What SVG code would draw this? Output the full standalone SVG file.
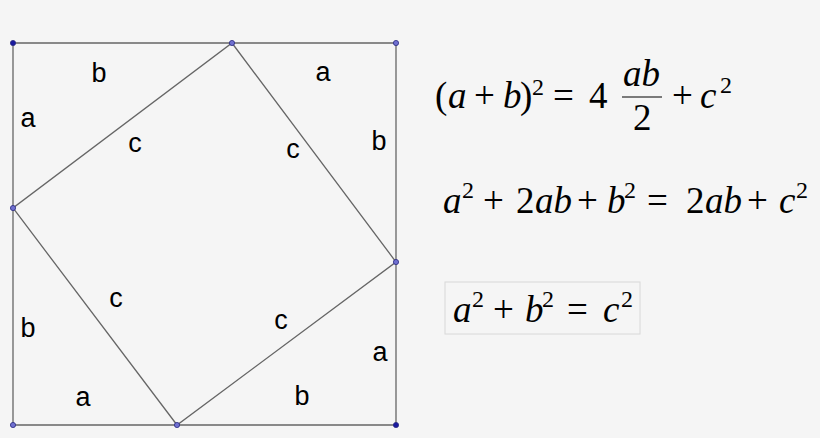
<svg xmlns="http://www.w3.org/2000/svg" width="820" height="438" viewBox="0 0 820 438">
<style>
.ln{stroke:#666;stroke-width:1.3;fill:none}
.pt{stroke:#2a2a80;stroke-width:0.8}
.lbl{font-family:"Liberation Sans",Arial,sans-serif;font-size:27px;fill:#000;text-anchor:middle}
.m{font-family:"Liberation Serif","Times New Roman",serif;font-size:37px;fill:#000}
.mi{font-style:italic}
.s{font-size:24px}
</style>
<rect width="820" height="438" fill="#f5f5f5"/>
<g id="connectors">
<polyline class="ln" points="13,43 396,43 396,425 13,425 13,43"/>
<polygon class="ln" points="232,43 396,262 177,425 13,208"/>
</g>
<g id="points">
<circle class="pt" cx="13" cy="43" r="2.6" fill="#1a1aa0"/>
<circle class="pt" cx="232" cy="43" r="2.6" fill="#7070d0"/>
<circle class="pt" cx="396" cy="43" r="2.6" fill="#7070d0"/>
<circle class="pt" cx="13" cy="208" r="2.6" fill="#7070d0"/>
<circle class="pt" cx="396" cy="262" r="2.6" fill="#7070d0"/>
<circle class="pt" cx="13" cy="425" r="2.6" fill="#7070d0"/>
<circle class="pt" cx="177" cy="425" r="2.6" fill="#7070d0"/>
<circle class="pt" cx="396" cy="425" r="2.6" fill="#1a1aa0"/>
</g>
<g id="labels">
<text class="lbl" x="99" y="82">b</text>
<text class="lbl" x="323" y="81">a</text>
<text class="lbl" x="28" y="127">a</text>
<text class="lbl" x="135" y="152">c</text>
<text class="lbl" x="293" y="158">c</text>
<text class="lbl" x="379" y="150">b</text>
<text class="lbl" x="116" y="307">c</text>
<text class="lbl" x="28" y="337">b</text>
<text class="lbl" x="281" y="329">c</text>
<text class="lbl" x="380" y="361">a</text>
<text class="lbl" x="83" y="406">a</text>
<text class="lbl" x="302" y="405">b</text>
</g>
<g id="formula1" class="m">
<text x="435" y="108">(</text>
<text class="mi" x="448" y="108">a</text>
<text x="474" y="108">+</text>
<text class="mi" x="503" y="108">b</text>
<text x="520" y="108">)</text>
<text class="s" x="532" y="95">2</text>
<text x="553" y="108">=</text>
<text x="589" y="108">4</text>
<text class="mi" x="623" y="86">ab</text>
<line x1="622" y1="97" x2="662" y2="97" stroke="#000" stroke-width="1.2"/>
<text x="633" y="130">2</text>
<text x="672" y="108">+</text>
<text class="mi" x="700" y="108">c</text>
<text class="s" x="720" y="93">2</text>
</g>
<g id="formula2" class="m">
<text class="mi" x="443" y="213">a</text>
<text class="s" x="462" y="198">2</text>
<text x="483" y="213">+</text>
<text x="516" y="213">2</text>
<text class="mi" x="535" y="213">ab</text>
<text x="577" y="213">+</text>
<text class="mi" x="607" y="213">b</text>
<text class="s" x="624" y="198">2</text>
<text x="647" y="213">=</text>
<text x="686" y="213">2</text>
<text class="mi" x="705" y="213">ab</text>
<text x="747" y="213">+</text>
<text class="mi" x="779" y="213">c</text>
<text class="s" x="796" y="198">2</text>
</g>
<g id="formula3" class="m">
<rect x="445" y="282" width="195" height="52" fill="none" stroke="#d8d8d8" stroke-width="1"/>
<text class="mi" x="453" y="322">a</text>
<text class="s" x="472" y="307">2</text>
<text x="493" y="322">+</text>
<text class="mi" x="525" y="322">b</text>
<text class="s" x="542" y="307">2</text>
<text x="567" y="322">=</text>
<text class="mi" x="603" y="322">c</text>
<text class="s" x="621" y="307">2</text>
</g>
</svg>
